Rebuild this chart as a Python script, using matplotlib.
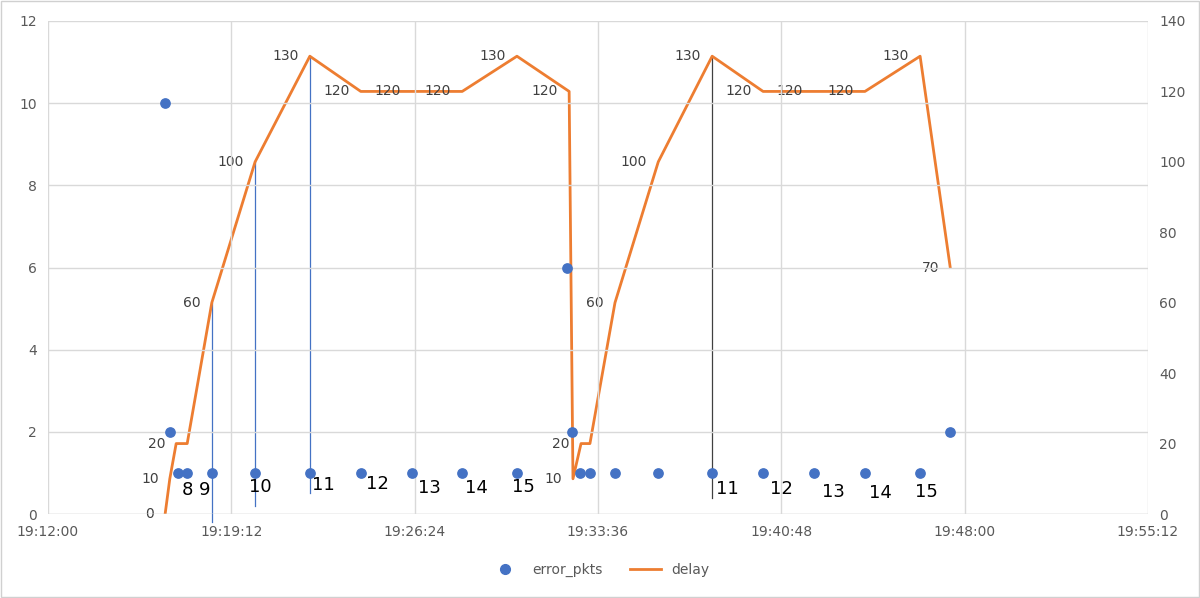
import matplotlib
matplotlib.use('Agg')
import matplotlib.pyplot as plt
import matplotlib.dates as mdates
import pandas as pd
from matplotlib.lines import Line2D

DAY = '2020-01-01 '

# error_pkts scatter series
err_times = ['19:16:36', '19:16:47', '19:17:06', '19:17:28', '19:18:26', '19:20:08',
             '19:22:17', '19:24:17', '19:26:18', '19:28:16', '19:30:25', '19:32:23',
             '19:32:35', '19:32:54', '19:33:17', '19:34:16', '19:35:58', '19:38:05',
             '19:40:05', '19:42:05', '19:44:05', '19:46:15', '19:47:26']
err_vals = [10, 2, 1, 1, 1, 1, 1, 1, 1, 1, 1, 6, 2, 1, 1, 1, 1, 1, 1, 1, 1, 1, 2]

# delay line series
delay_times = ['19:16:36', '19:16:47', '19:17:02', '19:17:28', '19:18:26', '19:20:08',
               '19:22:17', '19:24:17', '19:26:18', '19:28:16', '19:30:25', '19:32:28',
               '19:32:37', '19:32:56', '19:33:17', '19:34:16', '19:35:58', '19:38:05',
               '19:40:05', '19:42:05', '19:44:05', '19:46:15', '19:47:26']
delay_vals = [0, 10, 20, 20, 60, 100, 130, 120, 120, 120, 130, 120,
              10, 20, 20, 60, 100, 130, 120, 120, 120, 130, 70]
delay_labelled = [1, 1, 1, 0, 1, 1, 1, 1, 1, 1, 1, 1, 1, 1, 0, 1, 1, 1, 1, 1, 1, 1, 1]

# sequence annotations (time, left-axis height, text)
seq_times = ['19:17:28', '19:18:10', '19:20:20', '19:22:50', '19:24:57', '19:26:58',
             '19:28:50', '19:30:40', '19:38:40', '19:40:48', '19:42:50', '19:44:42', '19:46:30']
seq_y = [0.58, 0.58, 0.65, 0.7, 0.72, 0.63, 0.63, 0.65, 0.6, 0.6, 0.53, 0.5, 0.53]
seq_text = ['8', '9', '10', '11', '12', '13', '14', '15', '11', '12', '13', '14', '15']

# drop lines from delay points (time, delay top, bottom on left axis, colour)
drop_times = ['19:18:26', '19:20:08', '19:22:17', '19:38:05']
drop_top = [60, 100, 130, 130]
drop_bottom = [-0.2, 0.2, 0.5, 0.4]
drop_colors = ['#4472c4', '#4472c4', '#4472c4', '#404040']

def ts(lst):
    return pd.to_datetime([DAY + t for t in lst])

et, dt, st, drt = ts(err_times), ts(delay_times), ts(seq_times), ts(drop_times)

fig = plt.figure(figsize=(12, 5.98), dpi=100)
fig.patches.append(plt.Rectangle((0.001, 0.001), 0.998, 0.998, transform=fig.transFigure,
                                 fill=False, edgecolor='#d0d0d0', lw=1))
ax = fig.add_axes([48 / 1200, 1 - 514 / 598, 1100 / 1200, 493 / 598])
ax2 = ax.twinx()

grid_c = '#d9d9d9'
ax.set_ylim(0, 12)
ax2.set_ylim(0, 140)
ax.set_yticks(range(0, 13, 2))
ax2.set_yticks(range(0, 141, 20))
xmin, xmax = pd.Timestamp(DAY + '19:12:00'), pd.Timestamp(DAY + '19:55:12')
ax.set_xlim(xmin, xmax)
ax.set_xticks(pd.date_range(xmin, xmax, freq='432s'))
ax.xaxis.set_major_formatter(mdates.DateFormatter('%H:%M:%S'))
ax.grid(True, color=grid_c, lw=1)
for a in (ax, ax2):
    for s in a.spines.values():
        s.set_visible(False)
    a.tick_params(length=0, labelsize=10, colors='#595959', pad=8)
ax.axhline(0, color=grid_c, lw=1)

# drop lines (drawn on right axis scale)
for t, top, bot, c in zip(drt, drop_top, drop_bottom, drop_colors):
    ax2.plot([t, t], [bot * 140 / 12, top], color=c, lw=0.9, clip_on=False, zorder=2)

ax2.plot(dt, delay_vals, color='#ed7d31', lw=2, zorder=3)
for t, v, show in zip(dt, delay_vals, delay_labelled):
    if show:
        ax2.annotate(str(v), (t, v), xytext=(-8, 0), textcoords='offset points',
                     ha='right', va='center', fontsize=10, color='#404040')

ax.set_zorder(ax2.get_zorder() + 1)
ax.patch.set_visible(False)
ax.scatter(et, err_vals, s=45, color='#4472c4', zorder=4)
for t, y, s in zip(st, seq_y, seq_text):
    ax.text(t, y, s, fontsize=13, color='black', ha='center', va='center')

handles = [Line2D([], [], marker='o', ls='', color='#4472c4', markersize=7),
           Line2D([], [], color='#ed7d31', lw=2)]
fig.legend(handles, ['error_pkts', 'delay'], loc='center', bbox_to_anchor=(0.5, 1 - 570 / 598),
           ncol=2, frameon=False, fontsize=10, labelcolor='#595959', handlelength=2.2)

fig.savefig('out.png', dpi=100)
